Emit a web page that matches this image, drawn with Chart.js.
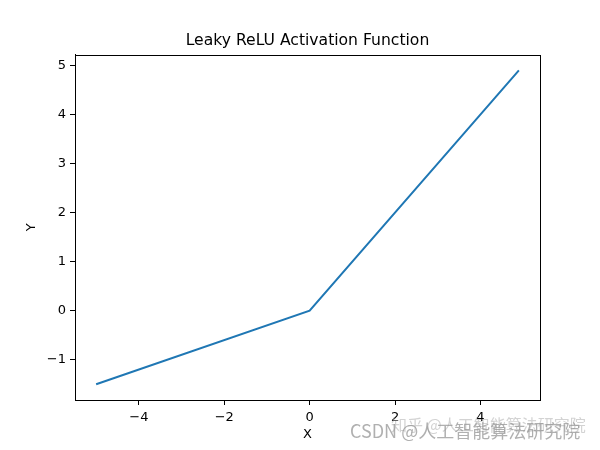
<!DOCTYPE html>
<html>
<head>
<meta charset="utf-8">
<script src="https://cdn.jsdelivr.net/npm/chart.js@4"></script>
<style>
html,body{margin:0;padding:0;background:#fff;}
canvas{display:block;}
</style>
</head>
<body>
<canvas id="c" width="600" height="450"></canvas>
<script>
// Data (Leaky ReLU, slope 0.3 for negatives)
const xValues = [-5, 0, 4.9];
const yValues = [-1.5, 0, 4.9];
const xTicks = [-4, -2, 0, 2, 4];
const yTicks = [-1, 0, 1, 2, 3, 4, 5];
const titleText = 'Leaky ReLU Activation Function';
const xLabel = 'X';
const yLabel = 'Y';
const watermark1 = '知乎 @人工智能算法研究院';
const watermark2 = 'CSDN @人工智能算法研究院';

function padRange(arr) {
  const mn = Math.min(...arr), mx = Math.max(...arr);
  const m = (mx - mn) * 0.05;
  return [mn - m, mx + m];
}
const [xMin, xMax] = padRange(xValues);
const [yMin, yMax] = padRange(yValues);

const minus = v => String(v).replace('-', '\u2212');
const FONT = "'DejaVu Sans', sans-serif";

const framePlugin = {
  id: 'frame',
  afterDraw(chart) {
    const {ctx, chartArea: a} = chart;
    ctx.save();
    ctx.strokeStyle = '#000';
    ctx.lineWidth = 1;
    ctx.strokeRect(Math.round(a.left) + 0.5, Math.round(a.top) + 0.5,
                   Math.round(a.right - a.left), Math.round(a.bottom - a.top));
    // watermarks
    ctx.textBaseline = 'alphabetic';
    ctx.textAlign = 'left';
    ctx.font = "16px 'Noto Sans CJK SC', sans-serif";
    ctx.fillStyle = 'rgba(175,175,175,0.55)';
    ctx.fillText(watermark1, 391, 431);
    ctx.font = "18px 'Noto Sans CJK SC', sans-serif";
    ctx.fillStyle = 'rgba(150,150,150,0.75)';
    ctx.fillText(watermark2, 350, 438);
    ctx.restore();
  }
};

new Chart(document.getElementById('c'), {
  type: 'line',
  data: {
    datasets: [{
      data: xValues.map((x, i) => ({x: x, y: yValues[i]})),
      borderColor: '#1f77b4',
      borderWidth: 2,
      pointRadius: 0,
      fill: false,
      tension: 0
    }]
  },
  options: {
    responsive: false,
    animation: false,
    devicePixelRatio: 1,
    layout: {padding: {left: 0, right: 60, top: 0, bottom: 0}},
    plugins: {
      legend: {display: false},
      tooltip: {enabled: false},
      title: {
        display: true,
        text: titleText,
        fullSize: false,
        color: '#000',
        font: {family: FONT, size: 15.6, weight: 'normal', lineHeight: 1.2},
        padding: {top: 32, bottom: 4}
      }
    },
    scales: {
      x: {
        type: 'linear',
        min: xMin,
        max: xMax,
        afterBuildTicks: s => { s.ticks = xTicks.map(v => ({value: v})); },
        afterFit: s => { s.height = 50; },
        grid: {drawOnChartArea: false, drawTicks: true, tickLength: 5, color: '#000'},
        border: {display: true, color: '#000'},
        ticks: {color: '#000', padding: 5, maxRotation: 0, autoSkip: false,
                font: {family: FONT, size: 13}, callback: v => minus(v)},
        title: {display: true, text: xLabel, color: '#000',
                font: {family: FONT, size: 13, lineHeight: 1.2}, padding: {top: 0, bottom: 8}}
      },
      y: {
        type: 'linear',
        min: yMin,
        max: yMax,
        afterBuildTicks: s => { s.ticks = yTicks.map(v => ({value: v})); },
        afterFit: s => { s.width = 75; },
        grid: {drawOnChartArea: false, drawTicks: true, tickLength: 5, color: '#000'},
        border: {display: true, color: '#000'},
        ticks: {color: '#000', padding: 4, autoSkip: false,
                font: {family: FONT, size: 13}, callback: v => minus(v)},
        title: {display: true, text: yLabel, color: '#000',
                font: {family: FONT, size: 13, lineHeight: 1.2}, padding: {top: 24, bottom: 0}}
      }
    }
  },
  plugins: [framePlugin]
});
</script>
</body>
</html>
